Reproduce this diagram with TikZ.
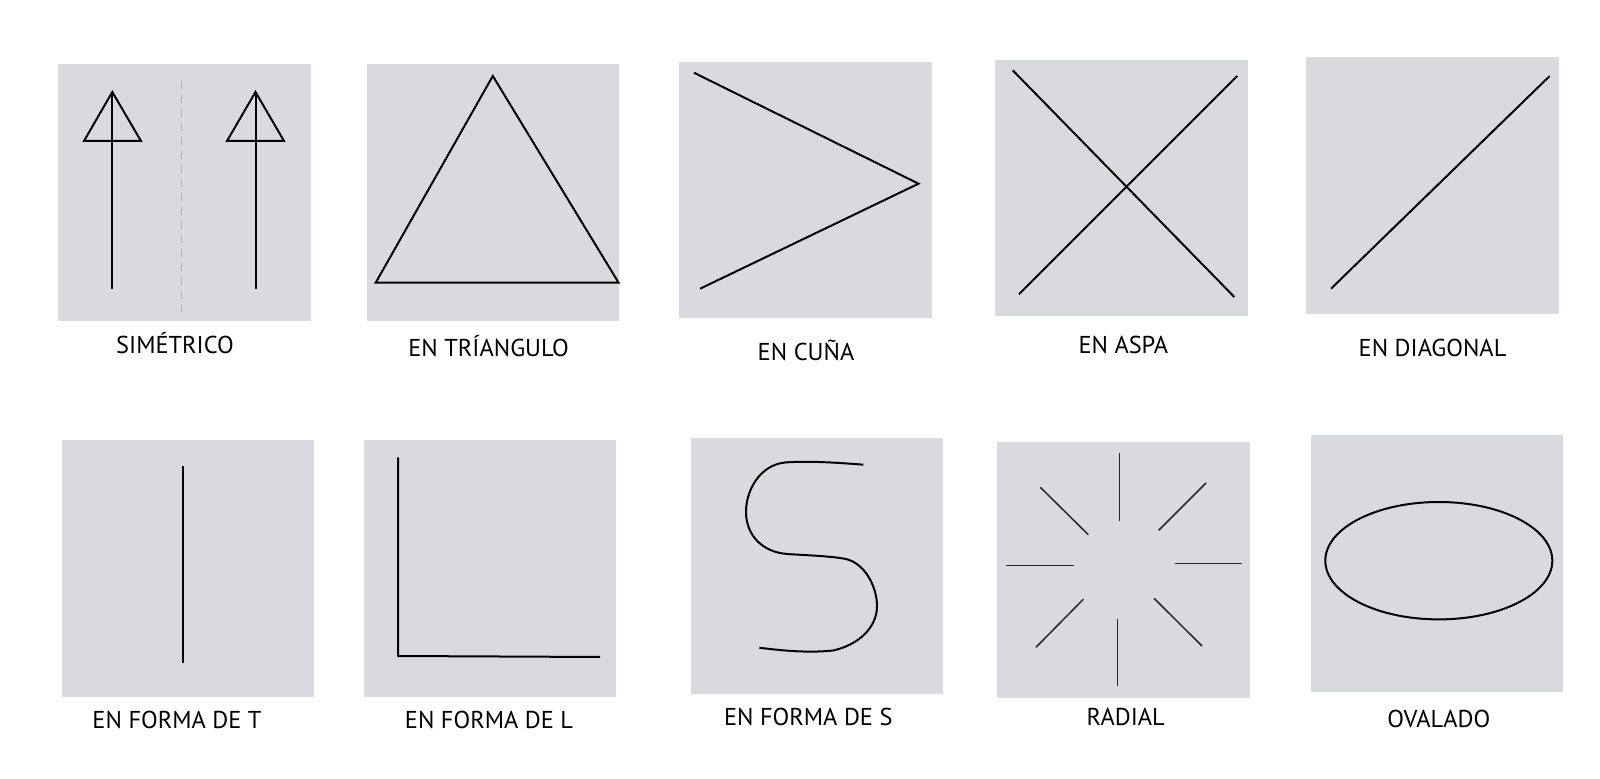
\documentclass[tikz,border=0pt]{standalone}
\usepackage{fontspec}
\setmainfont{PT Sans}
\begin{document}
\begin{tikzpicture}[x=0.5pt,y=-0.5pt,
  panel/.style={fill=boxgray,draw=none},
  shape line/.style={draw=black,line width=1pt,line join=miter},
  thin line/.style={draw=black!85,line width=0.75pt},
  caption/.style={anchor=base,inner sep=0pt,font=\fontsize{12.2}{14}\selectfont,text=black}]
\definecolor{boxgray}{RGB}{217,218,221}
\definecolor{dashgray}{RGB}{175,175,178}
\useasboundingbox (0,0) rectangle (1600,779);
\fill[white] (0,0) rectangle (1600,779);
% panels
\fill[panel] (58,64) rectangle (311,321);
\fill[panel] (367,64) rectangle (619.4,321);
\fill[panel] (679.4,62) rectangle (931.8,318.3);
\fill[panel] (995.3,60) rectangle (1248,316.5);
\fill[panel] (1306,57.3) rectangle (1559,314.3);
\fill[panel] (62,440) rectangle (314.4,696.7);
\fill[panel] (364,440) rectangle (615.6,696.7);
\fill[panel] (691,437.7) rectangle (943.3,694.3);
\fill[panel] (997.3,442) rectangle (1250,698);
\fill[panel] (1310.7,435.3) rectangle (1562.7,692.3);
% 1 symmetric
\draw[dashgray,line width=0.6pt,dash pattern=on 4pt off 3pt] (181.7,81) -- (181.7,312);
\draw[shape line] (112.3,289) -- (112.3,92);
\draw[shape line] (84,141) -- (141,141) -- (112.3,92) -- cycle;
\draw[shape line] (255.5,289) -- (255.5,92);
\draw[shape line] (227,141) -- (284,141) -- (255.5,92) -- cycle;
% 2 triangle
\draw[shape line] (492.8,76) -- (375.7,282.7) -- (618.6,282.7) -- cycle;
% 3 wedge
\draw[shape line] (693.9,72.7) -- (918.5,183.7) -- (700.1,288.7);
% 4 cross
\draw[shape line] (1012.7,70.3) -- (1234.3,297);
\draw[shape line] (1237.3,76) -- (1019,294.3);
% 5 diagonal
\draw[shape line] (1331,288.7) -- (1549.7,76);
% 6 T
\draw[shape line] (182.9,466) -- (182.9,662.7);
% 7 L
\draw[shape line] (398,457.3) -- (398,656) -- (600,657);
% 8 S
\draw[shape line] (863.3,464.7) .. controls (830,462) and (805,461) .. (785,462.5)
  .. controls (760,465) and (746,490) .. (746,512)
  .. controls (746,535) and (762,552) .. (787,554)
  .. controls (810,555.5) and (830,556) .. (846,559)
  .. controls (866,564) and (877,588) .. (877,606)
  .. controls (877,628) and (858,645) .. (833,650.5)
  .. controls (810,653) and (785,651) .. (759.3,647.7);
% 9 radial
\draw[thin line] (1119.7,452.7) -- (1119.7,520.7);
\draw[thin line] (1117.7,619) -- (1117.7,686);
\draw[thin line] (1006,565.7) -- (1073.7,565.7);
\draw[thin line] (1174.7,563.7) -- (1242,563.7);
\draw[thin line] (1040.3,487.3) -- (1088.3,534.7);
\draw[thin line] (1206,483) -- (1158.7,530.3);
\draw[thin line] (1083.3,599.3) -- (1036,647.3);
\draw[thin line] (1154,598.3) -- (1202,646);
% 10 oval
\draw[shape line] (1438.8,560.7) ellipse [x radius=113.5, y radius=58.7];
% captions
\node[caption] (c1) at (175,354) {SIMÉTRICO};
\node[caption] (c2) at (488.6,356.7) {EN TRÍANGULO};
\node[caption] (c3) at (806,361) {EN CUÑA};
\node[caption] (c4) at (1123.3,354) {EN ASPA};
\node[caption] (c5) at (1432.5,356.7) {EN DIAGONAL};
\node[caption] (c6) at (177,728.3) {EN FORMA DE T};
\node[caption] (c7) at (489,728) {EN FORMA DE L};
\node[caption] (c8) at (808.3,725.7) {EN FORMA DE S};
\node[caption] (c9) at (1125.7,725.7) {RADIAL};
\node[caption] (c10) at (1438.8,727.7) {OVALADO};
\end{tikzpicture}
\end{document}
